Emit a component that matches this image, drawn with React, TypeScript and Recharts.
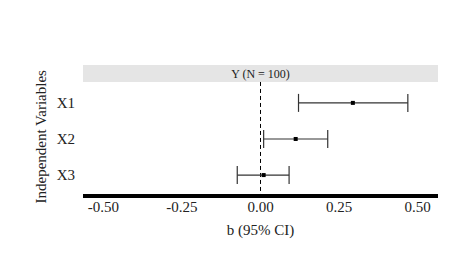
import React from "react";
import {
  ErrorBar,
  ReferenceArea,
  ReferenceLine,
  Scatter,
  ScatterChart,
  XAxis,
  YAxis,
} from "recharts";

const variables = ["X1", "X2", "X3"];
const estimates = [0.294, 0.112, 0.01];
const ciLow = [0.121, 0.01, -0.074];
const ciHigh = [0.469, 0.214, 0.091];
const xTicks = [-0.5, -0.25, 0, 0.25, 0.5];

const FONT = "Liberation Serif";

const data = variables.map((name, i) => ({
  row: i + 1,
  name,
  b: estimates[i],
  err: [estimates[i] - ciLow[i], ciHigh[i] - estimates[i]],
}));

export default function App() {
  return (
    <div style={{ position: "absolute", left: 0, top: 0, background: "#fff", fontFamily: FONT }}>
      <ScatterChart
        width={474}
        height={275}
        margin={{ top: 65, right: 36, bottom: 49, left: 23 }}
        style={{ fontFamily: FONT }}
      >
        <XAxis
          type="number"
          dataKey="b"
          domain={[-0.565, 0.565]}
          ticks={xTicks}
          tickFormatter={(v) => v.toFixed(2)}
          tick={{ fill: "#222", fontSize: 15, fontFamily: FONT, dy: -3 }}
          tickLine={false}
          axisLine={{ stroke: "#000", strokeWidth: 4 }}
          height={30}
          label={{
            value: "b (95% CI)",
            position: "insideBottom",
            offset: -9,
            fill: "#222",
            fontSize: 15,
            fontFamily: FONT,
          }}
        />
        <YAxis
          type="number"
          dataKey="row"
          reversed
          domain={[-0.05, 3.58]}
          ticks={[1, 2, 3]}
          tickFormatter={(v) => variables[v - 1]}
          tick={{ fill: "#222", fontSize: 15, fontFamily: FONT }}
          tickLine={false}
          axisLine={false}
          width={60}
          label={{
            value: "Independent Variables",
            angle: -90,
            position: "insideLeft",
            offset: 18,
            dy: 73,
            fill: "#222",
            fontSize: 15,
            fontFamily: FONT,
          }}
        />
        <ReferenceArea
          x1={-0.565}
          x2={0.565}
          y1={-0.05}
          y2={0.42}
          fill="#e5e5e5"
          fillOpacity={1}
          stroke="none"
          label={{ value: "Y (N = 100)", fill: "#222", fontSize: 12, fontFamily: FONT }}
        />
        <ReferenceLine
          segment={[
            { x: 0, y: 0.42 },
            { x: 0, y: 3.58 },
          ]}
          stroke="#000"
          strokeDasharray="4 3"
        />
        <Scatter data={data} fill="#000" isAnimationActive={false} shape={(p: any) => (
          <rect x={p.cx - 2} y={p.cy - 2} width={4} height={4} fill="#000" />
        )}>
          <ErrorBar
            dataKey="err"
            direction="x"
            width={9}
            stroke="#333"
            strokeWidth={1.2}
            isAnimationActive={false}
          />
        </Scatter>
      </ScatterChart>
    </div>
  );
}
